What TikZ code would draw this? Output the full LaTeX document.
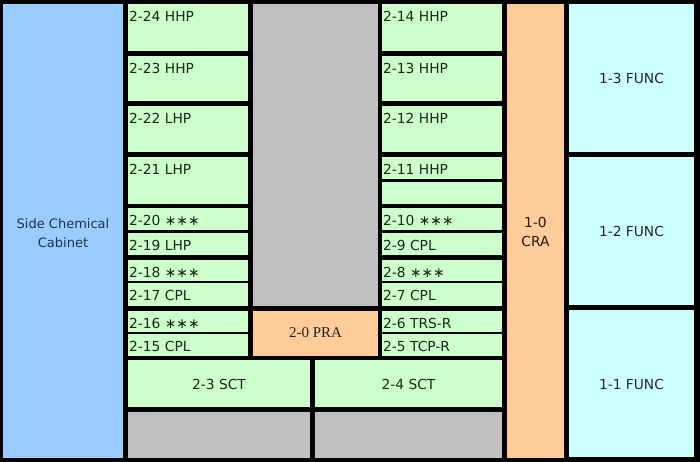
\documentclass[tikz,border=0pt]{standalone}
\usepackage{fontspec}
\setmainfont{DejaVu Sans}
\newfontfamily\prafont{Liberation Serif}
\definecolor{cellgreen}{RGB}{204,255,204}
\definecolor{sideblue}{RGB}{153,204,255}
\definecolor{craorange}{RGB}{255,204,153}
\definecolor{funccyan}{RGB}{204,255,255}
\definecolor{voidgray}{RGB}{192,192,192}
\definecolor{txtgreen}{RGB}{24,40,24}
\definecolor{txtblue}{RGB}{30,50,90}
\tikzset{
  celltext/.style={anchor=west, inner sep=0pt, text=txtgreen, font=\fontsize{13.8}{15}\selectfont},
  bigtext/.style={align=center, inner sep=0pt, font=\fontsize{13.8}{19}\selectfont}
}

\begin{document}
\begin{tikzpicture}[x=1pt,y=-1pt]
\useasboundingbox (0,0) rectangle (700,462);
\fill[black] (0,0) rectangle (700,462);
% side cabinet
\fill[sideblue] (3,4) rectangle (123,458);
\node[bigtext, text=txtblue, font=\fontsize{13}{19}\selectfont] (side) at (63,233) {Side Chemical\\Cabinet};
% left column of units
\foreach \n/\t/\b/\l in {24/4/51/HHP, 23/56/101/HHP, 22/106/152/LHP, 21/157/204/LHP,
  20/208/230/∗∗∗, 19/233/255/LHP, 18/260/281/∗∗∗, 17/283/306/CPL, 16/311/332/∗∗∗, 15/334/356/CPL}
{
\fill[cellgreen] (128,\t) rectangle (248,\b);
\node[celltext] (u\n) at (129,\t+12) {2-\n{} \l};
}
% right column of units
\foreach \n/\t/\b/\l in {14/4/51/HHP, 13/56/101/HHP, 12/106/152/HHP, 11/157/179/HHP,
  10/208/230/∗∗∗, 9/233/255/CPL, 8/260/281/∗∗∗, 7/283/306/CPL, 6/311/332/TRS-R, 5/334/356/TCP-R}
{
\fill[cellgreen] (382,\t) rectangle (502,\b);
\node[celltext] (u\n) at (383,\t+12) {2-\n{} \l};
}
\fill[cellgreen] (382,182) rectangle (502,204);
% middle
\fill[voidgray] (253,4) rectangle (378,306);
\fill[craorange] (253,311) rectangle (378,356);
\node[inner sep=0pt, text=txtgreen, font=\prafont\fontsize{15}{17}\selectfont] (pra) at (315.5,333) {2-0 PRA};
% SCT
\fill[cellgreen] (128,360) rectangle (310,407);
\fill[cellgreen] (315,360) rectangle (502,407);
\node[bigtext, text=txtgreen] (sct3) at (219,384) {2-3 SCT};
\node[bigtext, text=txtgreen] (sct4) at (408.5,384) {2-4 SCT};
\fill[voidgray] (128,412) rectangle (310,458);
\fill[voidgray] (315,412) rectangle (502,458);
% CRA
\fill[craorange] (507,4) rectangle (564,458);
\node[bigtext, text=black!80!brown] (cra) at (535.5,232) {1-0\\CRA};
% FUNC
\fill[funccyan] (569,4) rectangle (694,152);
\fill[funccyan] (569,157) rectangle (694,305);
\fill[funccyan] (569,310) rectangle (694,457);
\node[bigtext, text=black!85] (f3) at (631.5,78) {1-3 FUNC};
\node[bigtext, text=black!85] (f2) at (631.5,231) {1-2 FUNC};
\node[bigtext, text=black!85] (f1) at (631.5,384) {1-1 FUNC};
\end{tikzpicture}
\end{document}
